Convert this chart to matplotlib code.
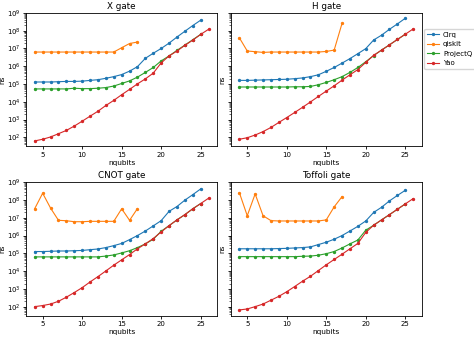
import numpy as np
from matplotlib import pyplot as plt

# qubit counts
n_qiskit = list(range(4, 18))
n_cirq = list(range(4, 26))
n_projectq = list(range(4, 26))
n_yao = list(range(4, 27))

# X gate timings (ns)
x_cirq = [1.3e5, 1.3e5, 1.3e5, 1.35e5, 1.4e5, 1.4e5, 1.45e5, 1.6e5, 1.75e5, 2.1e5,
          2.6e5, 3.4e5, 5.3e5, 9.5e5, 2.8e6, 5.4e6, 1.0e7, 2.0e7, 4.4e7, 9.3e7,
          1.95e8, 3.9e8]
x_qiskit = [6.3e6, 6.3e6, 6.3e6, 6.3e6, 6.3e6, 6.3e6, 6.3e6, 6.3e6, 6.3e6, 6.3e6,
            6.3e6, 1.1e7, 1.9e7, 2.3e7]
x_projectq = [5.3e4, 5.3e4, 5.3e4, 5.3e4, 5.3e4, 5.8e4, 5.5e4, 5.5e4, 5.8e4, 6.3e4,
              7.7e4, 1.07e5, 1.5e5, 2.45e5, 4.5e5, 8.5e5, 2.0e6, 3.8e6, 7.8e6, 1.55e7,
              3.1e7, 6.2e7]
x_yao = [63, 78, 105, 160, 245, 430, 810, 1550, 2950, 6200, 1.2e4, 2.5e4, 5.0e4,
         1.02e5, 1.95e5, 4.1e5, 1.55e6, 3.8e6, 7.2e6, 1.5e7, 2.95e7, 6.2e7, 1.2e8]

# H gate timings (ns)
h_cirq = [1.6e5, 1.6e5, 1.65e5, 1.7e5, 1.75e5, 1.8e5, 1.85e5, 2.0e5, 2.2e5, 2.6e5,
          3.3e5, 5.2e5, 8.5e5, 1.5e6, 2.7e6, 5.1e6, 9.8e6, 3.0e7, 5.6e7, 1.2e8,
          2.4e8, 5.0e8]
h_qiskit = [4.0e7, 7.2e6, 6.6e6, 6.0e6, 6.3e6, 6.3e6, 6.3e6, 6.3e6, 6.3e6, 6.3e6,
            6.3e6, 6.8e6, 8.1e6, 2.6e8]
h_projectq = [6.8e4, 6.8e4, 6.8e4, 6.8e4, 6.8e4, 6.8e4, 6.8e4, 7.0e4, 7.0e4, 7.3e4,
              9.1e4, 1.23e5, 1.74e5, 2.6e5, 4.5e5, 8.5e5, 1.8e6, 4.0e6, 8.1e6, 1.6e7,
              3.2e7, 6.3e7]
h_yao = [78, 95, 135, 210, 360, 690, 1300, 2500, 4900, 9800, 2.0e4, 4.0e4, 7.9e4,
         1.65e5, 3.3e5, 6.5e5, 1.65e6, 4.1e6, 8.1e6, 1.6e7, 3.2e7, 6.3e7, 1.26e8]

# CNOT gate timings (ns)
cnot_cirq = [1.26e5, 1.26e5, 1.3e5, 1.35e5, 1.35e5, 1.4e5, 1.45e5, 1.6e5, 1.75e5,
             2.1e5, 2.7e5, 3.6e5, 5.9e5, 1.0e6, 1.8e6, 3.5e6, 6.9e6, 2.3e7, 4.3e7,
             9.8e7, 2.0e8, 4.2e8]
cnot_qiskit = [3.3e7, 2.4e8, 3.5e7, 7.2e6, 6.8e6, 6.0e6, 6.0e6, 6.3e6, 6.3e6,
               6.3e6, 6.3e6, 3.2e7, 7.2e6, 3.3e7]
cnot_projectq = [6.3e4, 6.3e4, 6.3e4, 6.3e4, 6.3e4, 6.3e4, 6.3e4, 6.3e4, 6.3e4,
                 7.0e4, 8.1e4, 1.05e5, 1.4e5, 2.1e5, 3.4e5, 6.2e5, 1.75e6, 3.6e6,
                 7.6e6, 1.5e7, 3.2e7, 6.3e7]
cnot_yao = [100, 115, 140, 200, 340, 620, 1170, 2450, 4900, 1.02e4, 2.15e4, 4.3e4,
            8.5e4, 1.8e5, 3.4e5, 6.8e5, 1.6e6, 3.6e6, 7.6e6, 1.5e7, 3.2e7, 6.3e7,
            1.26e8]

# Toffoli gate timings (ns)
toffoli_cirq = [1.8e5, 1.8e5, 1.8e5, 1.8e5, 1.8e5, 1.85e5, 1.9e5, 2.0e5, 2.1e5,
                2.3e5, 3.1e5, 4.2e5, 6.2e5, 1.0e6, 1.8e6, 3.3e6, 6.6e6, 2.0e7,
                3.9e7, 8.9e7, 1.8e8, 3.5e8]
toffoli_qiskit = [2.6e8, 1.3e7, 2.2e8, 1.3e7, 6.9e6, 6.6e6, 6.6e6, 6.6e6, 6.6e6,
                  6.6e6, 6.6e6, 7.6e6, 4.1e7, 1.55e8]
toffoli_projectq = [6.5e4, 6.5e4, 6.5e4, 6.5e4, 6.5e4, 6.5e4, 6.5e4, 6.5e4, 6.8e4,
                    7.0e4, 7.8e4, 9.5e4, 1.26e5, 2.0e5, 3.4e5, 5.6e5, 2.0e6, 3.8e6,
                    7.6e6, 1.5e7, 3.0e7, 6.0e7]
toffoli_yao = [65, 74, 100, 140, 230, 380, 690, 1350, 2700, 5100, 1.07e4, 2.25e4,
               4.5e4, 8.9e4, 1.8e5, 3.6e5, 1.5e6, 3.8e6, 7.6e6, 1.5e7, 3.0e7,
               6.0e7, 1.2e8]

gates = ['X gate', 'H gate', 'CNOT gate', 'Toffoli gate']
results = [
    (x_cirq, x_qiskit, x_projectq, x_yao),
    (h_cirq, h_qiskit, h_projectq, h_yao),
    (cnot_cirq, cnot_qiskit, cnot_projectq, cnot_yao),
    (toffoli_cirq, toffoli_qiskit, toffoli_projectq, toffoli_yao),
]
labels = ['Cirq', 'qiskit', 'ProjectQ', 'Yao']
nqubits = [n_cirq, n_qiskit, n_projectq, n_yao]

plt.rcParams['font.size'] = 5

fig, axes = plt.subplots(2, 2, figsize=(4.74, 3.40), dpi=100, sharey=True)
fig.subplots_adjust(left=0.055, right=0.89, bottom=0.072, top=0.962,
                    wspace=0.07, hspace=0.27)

for ax, title, res in zip(axes.flat, gates, results):
    for n, t, lab in zip(nqubits, res, labels):
        ax.plot(n, t, marker='o', markersize=1.4, linewidth=0.8, label=lab)
    ax.set_yscale('log')
    ax.set_ylim(10 ** 1.5, 1e9)
    ax.set_title(title, fontsize=6.3, pad=3)
    ax.set_xlabel('nqubits', fontsize=5.3, labelpad=1.5)
    ax.set_ylabel('ns', fontsize=5.3, labelpad=1)
    ax.tick_params(labelsize=5, length=2.5, width=0.6, pad=1.5)
    ax.tick_params(which='minor', length=1.2, width=0.4)
    for s in ax.spines.values():
        s.set_linewidth(0.6)

axes[0, 1].legend(loc='upper left', bbox_to_anchor=(1.005, 0.89), fontsize=5,
                  handlelength=1.8, handletextpad=0.5, borderpad=0.4,
                  borderaxespad=0.2)

fig.savefig('out.png', dpi=100)
